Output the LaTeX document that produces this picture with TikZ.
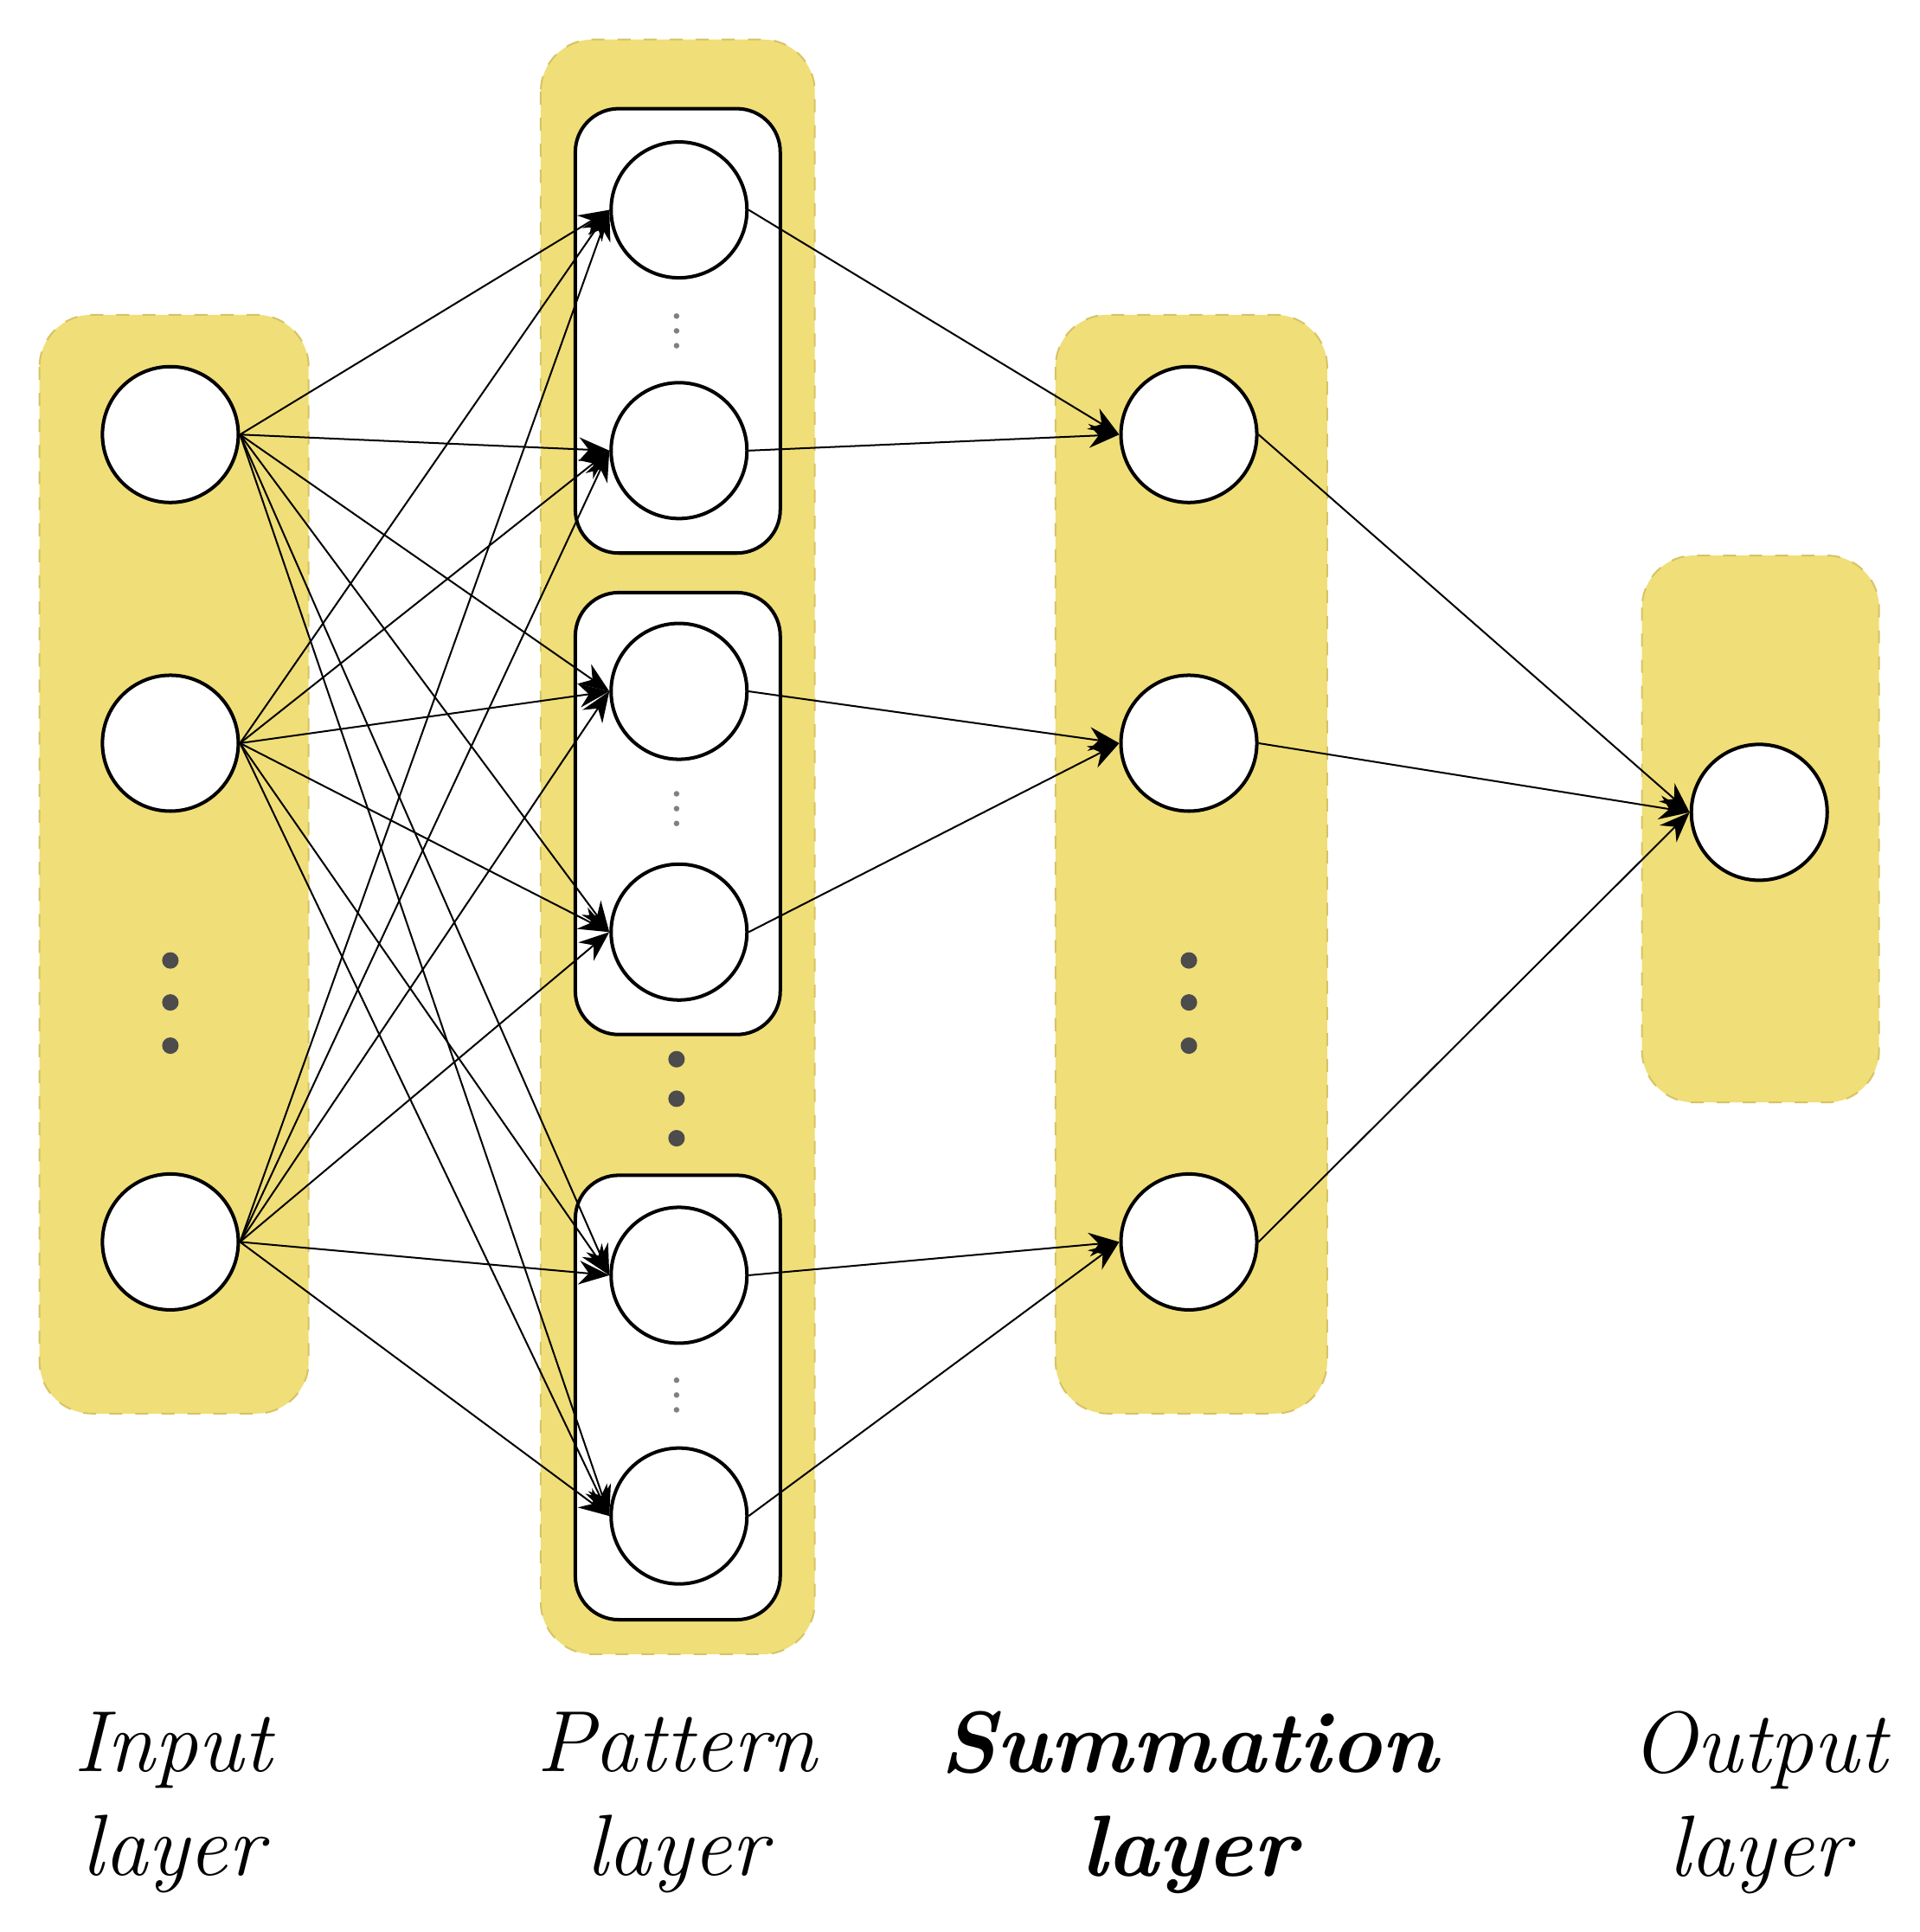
\documentclass[tikz,border=0pt]{standalone}
\usepackage{tikz}
\usetikzlibrary{arrows.meta}
\definecolor{layeryellow}{RGB}{240,222,120}
\definecolor{layeredge}{RGB}{215,195,100}
\begin{document}
\begin{tikzpicture}[x=0.01cm,y=-0.01cm,>={Stealth[length=7pt,width=5.5pt]},line join=bevel,
  neuron/.style={draw,circle,fill=white,minimum size=1.1cm,inner sep=0pt,line width=0.8pt},
  layerbg/.style={fill=layeryellow,draw=layeredge,dashed,rounded corners=12pt},
  group/.style={draw,fill=white,rounded corners=10pt,line width=0.8pt},
  bigdot/.style={circle,fill=black!70,inner sep=0pt,minimum size=3.8pt},
  smalldot/.style={circle,fill=black!50,inner sep=0pt,minimum size=1.3pt},
  lab/.style={font=\fontsize{20}{24}\selectfont\itshape,align=center}]
\useasboundingbox (0,0) rectangle (1555,1565);
  % Backgrounds
  \fill[layerbg] (32,255) rectangle (250,1145);
  \fill[layerbg] (438,32) rectangle (660,1340);
  \fill[layerbg] (855,255) rectangle (1075,1145);
  \fill[layerbg] (1330,450) rectangle (1522,893);
  \draw[group] (466,88) rectangle (632,448);
  \draw[group] (466,480) rectangle (632,838);
  \draw[group] (466,952) rectangle (632,1312);
  % Input layer
  \node[neuron] (in1) at (138,352) {};
  \node[neuron] (in2) at (138,602) {};
  \node[neuron] (in3) at (138,1006) {};
  % Pattern layer
  \node[neuron] (pa1) at (550,170) {};
  \node[neuron] (pa2) at (550,365) {};
  \node[neuron] (pa3) at (550,560) {};
  \node[neuron] (pa4) at (550,755) {};
  \node[neuron] (pa5) at (550,1033) {};
  \node[neuron] (pa6) at (550,1228) {};
  % Summation layer
  \node[neuron] (su1) at (963,352) {};
  \node[neuron] (su2) at (963,602) {};
  \node[neuron] (su3) at (963,1006) {};
  % Output layer
  \node[neuron] (out) at (1425,658) {};
  % Dots
  \foreach \y in {778,812,847} {
    \node[bigdot] at (138,\y) {};
    \node[bigdot] at (963,\y) {};
  }
  \foreach \y in {858,890,922} \node[bigdot] at (548,\y) {};
  \foreach \y in {0,12,24} {
    \node[smalldot] at (548,256+\y) {};
    \node[smalldot] at (548,643+\y) {};
    \node[smalldot] at (548,1118+\y) {};
  }
  % Edges
  \foreach \i in {1,2,3}
    \foreach \j in {1,...,6}
      \draw[->] (in\i.east) -- (pa\j.west);
  \draw[->] (pa1.east) -- (su1.west);
  \draw[->] (pa2.east) -- (su1.west);
  \draw[->] (pa3.east) -- (su2.west);
  \draw[->] (pa4.east) -- (su2.west);
  \draw[->] (pa5.east) -- (su3.west);
  \draw[->] (pa6.east) -- (su3.west);
  \foreach \i in {1,2,3}
    \draw[->] (su\i.east) -- (out.west);
  % Labels
  \node[lab] (lin) at (140,1460) {Input\\layer};
  \node[lab] (lpa) at (548,1460) {Pattern\\layer};
  \node[lab,font=\fontsize{20}{24}\selectfont\bfseries\itshape] (lsu) at (963,1460) {Summation\\layer};
  \node[lab] (lou) at (1425,1460) {Output\\layer};
\end{tikzpicture}
\end{document}
